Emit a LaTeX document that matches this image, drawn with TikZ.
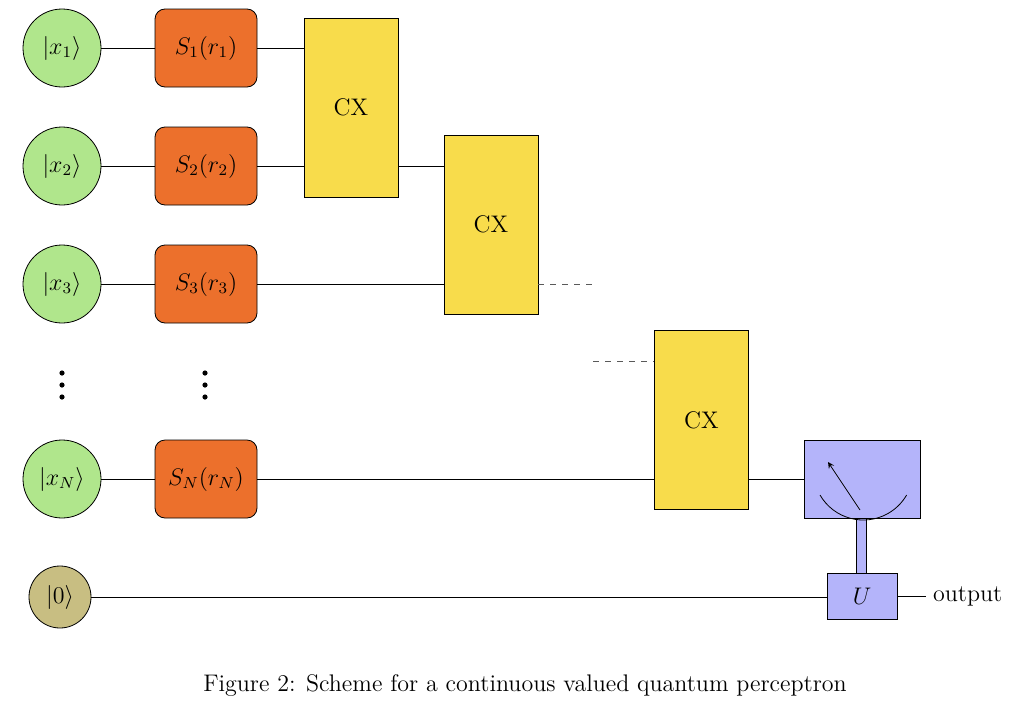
\documentclass[tikz,border=0pt]{standalone}
\begin{document}
\begin{tikzpicture}[x=0.5pt,y=-0.5pt,
 q/.style={circle,draw,fill={rgb,255:red,176;green,230;blue,140},minimum size=39pt,inner sep=0pt,font=\large},
 s/.style={rectangle,rounded corners=5pt,draw,fill={rgb,255:red,236;green,112;blue,44},minimum width=51pt,minimum height=39pt,font=\large},
 cx/.style={rectangle,draw,fill={rgb,255:red,248;green,220;blue,75},minimum width=47pt,minimum height=89.5pt,font=\large},
 bl/.style={draw,fill={rgb,255:red,180;green,180;blue,250}},
 w/.style={draw}]
\useasboundingbox (0,0) rectangle (1026,712);
\foreach \n/\y/\l/\s in {1/48/1/S_1(r_1),2/166/2/S_2(r_2),3/284/3/S_3(r_3),N/479/N/S_N(r_N)}{
 \node[q] (x\n) at (62,\y) {$|x_{\l}\rangle$};
 \node[s] (s\n) at (206,\y) {$\s$};
 \draw (x\n) -- (s\n);
}
\node[q,minimum size=31pt,fill={rgb,255:red,200;green,190;blue,130}] (z) at (60,597) {$|0\rangle$};
\node[cx] (c1) at (351,107.5) {CX};
\node[cx] (c2) at (491,224.5) {CX};
\node[cx] (c3) at (701.5,420) {CX};
\node[bl,minimum width=58pt,minimum height=39pt] (m) at (862,479) {};
\node[bl,minimum width=35pt,minimum height=23pt,font=\large] (u) at (862,596) {$U$};
\node[font=\large,anchor=west] (out) at (926,596) {output};
\coordinate (d1) at (597,284);
\coordinate (d2) at (593,361);
\draw (s1) -- (s1 -| c1.west);
\draw (s2) -- (s2 -| c1.west);
\draw (c1.east |- s2) -- (c2.west |- s2);
\draw (s3) -- (s3 -| c2.west);
\draw[dashed,gray!70!black] (c2.east |- s3) -- (d1);
\draw[dashed,gray!70!black] (d2) -- (d2 -| c3.west);
\draw (sN) -- (sN -| c3.west);
\draw (c3.east |- sN) -- (m.west);
\draw (z) -- (u.west |- z);
\draw (u.east |- out) -- (out);
\draw[bl] (856,518) rectangle (866,573);
\draw (820,495) arc[start angle=150,end angle=30,radius=50];
\draw[-stealth] (860,510) -- (828,462);
\foreach \x in {62,205}{\foreach \y in {373,385,397}{\fill (\x,\y) circle (2.6);}}
\node[font=\large] (cap) at (525,685) {Figure 2: Scheme for a continuous valued quantum perceptron};
\end{tikzpicture}
\end{document}
